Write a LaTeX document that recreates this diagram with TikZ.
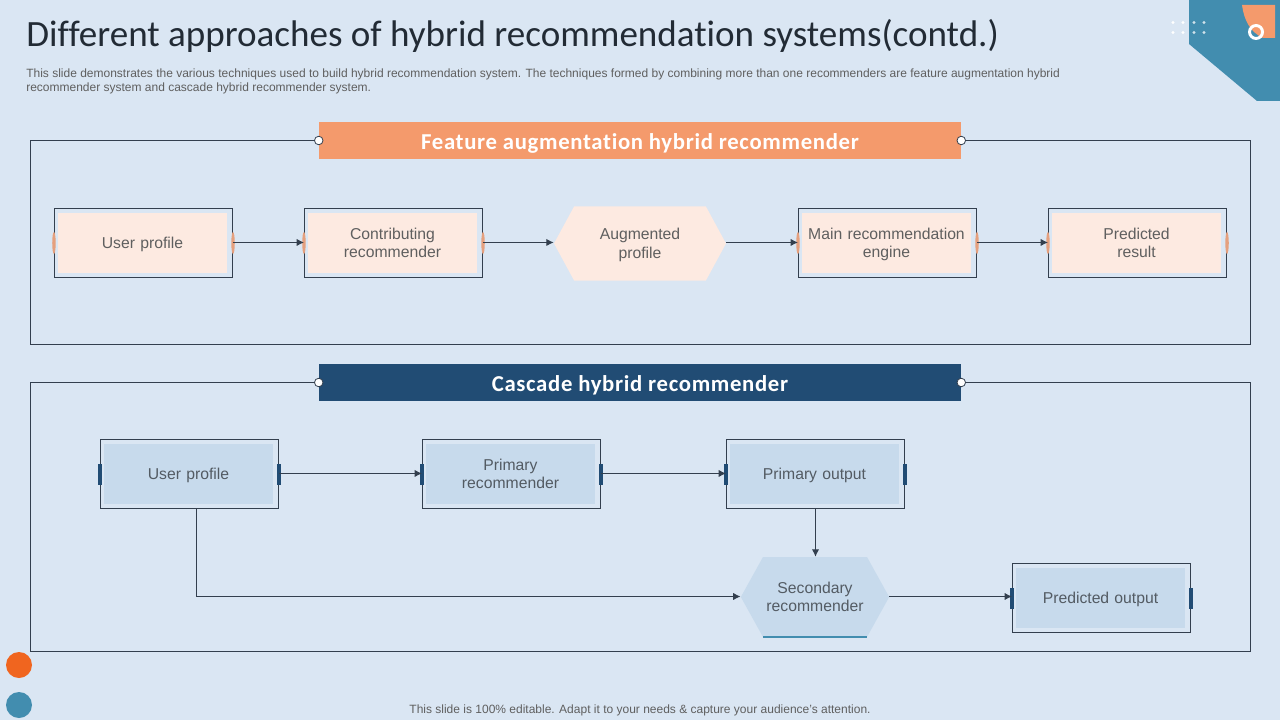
\documentclass[tikz,border=0pt]{standalone}
\usepackage{fontspec}
\setmainfont{Liberation Sans}
\newfontfamily\titlefont[Ligatures=NoCommon]{Carlito}
\newfontfamily\bannerfont[Ligatures=NoCommon,LetterSpace=3]{Carlito}
\usetikzlibrary{shapes.geometric,shapes.symbols,arrows.meta}
\definecolor{pagebg}{HTML}{DAE6F3}
\definecolor{linedark}{HTML}{333F4E}
\definecolor{orangehead}{HTML}{F49A6C}
\definecolor{orangesoft}{HTML}{FDEAE1}
\definecolor{orangetab}{HTML}{E5A07E}
\definecolor{orangedot}{HTML}{F0651F}
\definecolor{navyhead}{HTML}{214C74}
\definecolor{bluesoft}{HTML}{C7DAEC}
\definecolor{tealcorner}{HTML}{428DAF}
\definecolor{bodygray}{HTML}{5F5F5F}
\definecolor{titledark}{HTML}{222B35}
\tikzset{
    framebox/.style={draw=linedark, line width=.8pt, minimum width=133.5pt, minimum height=51.75pt, inner sep=0pt},
    softtext/.style={inner sep=0pt, align=center, font=\fontsize{11.8}{14.2}\selectfont,
        execute at begin node={\rule{0pt}{12.5pt}}, execute at end node=\strut},
    softbox/.style={softtext, text width=127pt, minimum height=45.5pt, xshift=-.75pt},
    hexbox/.style={softtext, text width=78pt, signal, signal to=east and west, signal pointer angle=123},
    headbar/.style={minimum width=481.5pt, minimum height=27.75pt, inner sep=0pt, text=white, font=\bannerfont\bfseries\fontsize{17.05}{18}\selectfont,
        execute at begin node={\rule{0pt}{16.5pt}}},
    knob/.style={circle, draw=linedark, fill=white, line width=.6pt, minimum size=6.4pt, inner sep=0pt},
    flow/.style={draw=linedark, line width=.8pt, -{Latex[length=5.5pt,width=5.5pt]}},
    tabA/.style={ellipse, fill=orangetab, minimum width=2.6pt, minimum height=16.5pt, inner sep=0pt},
    tabB/.style={rectangle, fill=navyhead, minimum width=2.4pt, minimum height=15.75pt, inner sep=0pt},
}
\begin{document}
\begin{tikzpicture}[x=.75pt, y=-.75pt]
    \useasboundingbox (0,0) rectangle (1280,720);
    \fill[pagebg] (0,0) rectangle (1280,720);
    % corner decoration
    \fill[tealcorner] (1189,0) -- (1280,0) -- (1280,101) -- (1257,101) -- (1189,44) -- cycle;
    \fill[orangehead] (1242,5) -- (1275,5) -- (1275,38) -- (1263,38) .. controls (1250,32) and (1244,20) .. (1242,5);
    \draw[white, line width=2.2pt] (1256,32) circle (6.5);
    \foreach \x in {1173,1183} \foreach \y in {22.5,32.5} \fill[white] (\x,\y) circle (1.7);
    \foreach \x in {1194,1204} \foreach \y in {22.5,32.5} \fill[white!75!tealcorner] (\x,\y) circle (1.7);
    % title
    \node[anchor=west, inner sep=0pt, text=titledark, font=\titlefont\fontsize{27.8}{30}\selectfont] (title) at (26,36) {Different approaches of hybrid recommendation systems(contd.)};
    \node[anchor=north west, inner sep=0pt, align=left, text=bodygray, font=\fontsize{9}{10.5}\selectfont] (intro) at (26,69) {This slide demonstrates the various techniques used to build hybrid recommendation system. The techniques formed by combining more than one recommenders are feature augmentation hybrid\\recommender system and cascade hybrid recommender system.};
    % upper panel
    \node[headbar, fill=orangehead] (headA) at (640,140.5) {Feature augmentation hybrid recommender};
    \coordinate (panelAl) at (30.5,344.5);
    \coordinate (panelAr) at (1250.5,344.5);
    \draw[linedark, line width=.8pt] (headA.west) -| (panelAl) -- (panelAr) |- (headA.east);
    \node[knob] at (headA.west) {};
    \node[knob] at (headA.east) {};
    \node[framebox] (userA) at (143.5,243) {};
    \node[framebox] (contrib) at (393.5,243) {};
    \node[framebox] (engine) at (887.5,243) {};
    \node[framebox] (resultA) at (1137.5,243) {};
    \foreach \n/\t in {userA/User profile, contrib/Contributing\\recommender, engine/Main recommendation\\engine, resultA/Predicted\\result}
        \node[softbox, fill=orangesoft, text=bodygray] at (\n) {\t};
    \foreach \n in {userA, contrib, engine, resultA} {
        \node[tabA] at (\n.west) {};
        \node[tabA] at (\n.east) {};
    }
    \node[hexbox, fill=orangesoft, text=bodygray, minimum width=129pt, minimum height=55.5pt] (augment) at (640,243.5) {Augmented\\profile};
    \draw[flow] ([yshift=.4pt]userA.east) -- ([yshift=.4pt]contrib.west);
    \draw[flow] ([yshift=.4pt]contrib.east) -- ([yshift=.4pt]contrib.east -| augment.west);
    \draw[flow] ([yshift=.4pt]engine.west -| augment.east) -- ([yshift=.4pt]engine.west);
    \draw[flow] ([yshift=.4pt]engine.east) -- ([yshift=.4pt]resultA.west);
    % lower panel
    \node[headbar, fill=navyhead] (headB) at (640,382.5) {Cascade hybrid recommender};
    \coordinate (panelBl) at (30.5,651.5);
    \coordinate (panelBr) at (1250.5,651.5);
    \draw[linedark, line width=.8pt] (headB.west) -| (panelBl) -- (panelBr) |- (headB.east);
    \node[knob] at (headB.west) {};
    \node[knob] at (headB.east) {};
    \node[framebox] (userB) at (189.5,474) {};
    \node[framebox] (primrec) at (511.5,474) {};
    \node[framebox] (primout) at (815.5,474) {};
    \node[framebox] (predout) at (1101.5,598) {};
    \foreach \n/\t in {userB/User profile, primrec/Primary\\recommender, primout/Primary output, predout/Predicted output}
        \node[softbox, fill=bluesoft, text=bodygray!80!navyhead] at (\n) {\t};
    \foreach \n in {userB, primrec, primout, predout} {
        \node[tabB] at (\n.west) {};
        \node[tabB] at (\n.east) {};
    }
    \node[hexbox, fill=bluesoft, text=bodygray!80!navyhead, minimum width=111pt, minimum height=60pt, signal pointer angle=122] (second) at (815,597) {Secondary\\recommender};
    \draw[tealcorner, line width=1pt] (763,637) -- (867,637);
    \coordinate (dropTop) at (196.5,509);
    \coordinate (drop) at (196.5,596.5);
    \draw[flow] ([yshift=.4pt]userB.east) -- ([yshift=.4pt]primrec.west);
    \draw[flow] ([yshift=.4pt]primrec.east) -- ([yshift=.4pt]primout.west);
    \draw[flow] (primout.south) -- (primout.south |- second.north);
    \draw[flow] (dropTop) -- (drop) -- (drop -| second.west);
    \draw[flow] (drop -| second.east) -- (drop -| predout.west);
    % side dots and footer
    \fill[orangedot] (19,665) circle (13);
    \fill[tealcorner] (19,705) circle (13);
    \node[inner sep=0pt, text=bodygray, font=\fontsize{9}{11}\selectfont] (footer) at (640,710) {This slide is 100\% editable. Adapt it to your needs \& capture your audience’s attention.};
\end{tikzpicture}
\end{document}
